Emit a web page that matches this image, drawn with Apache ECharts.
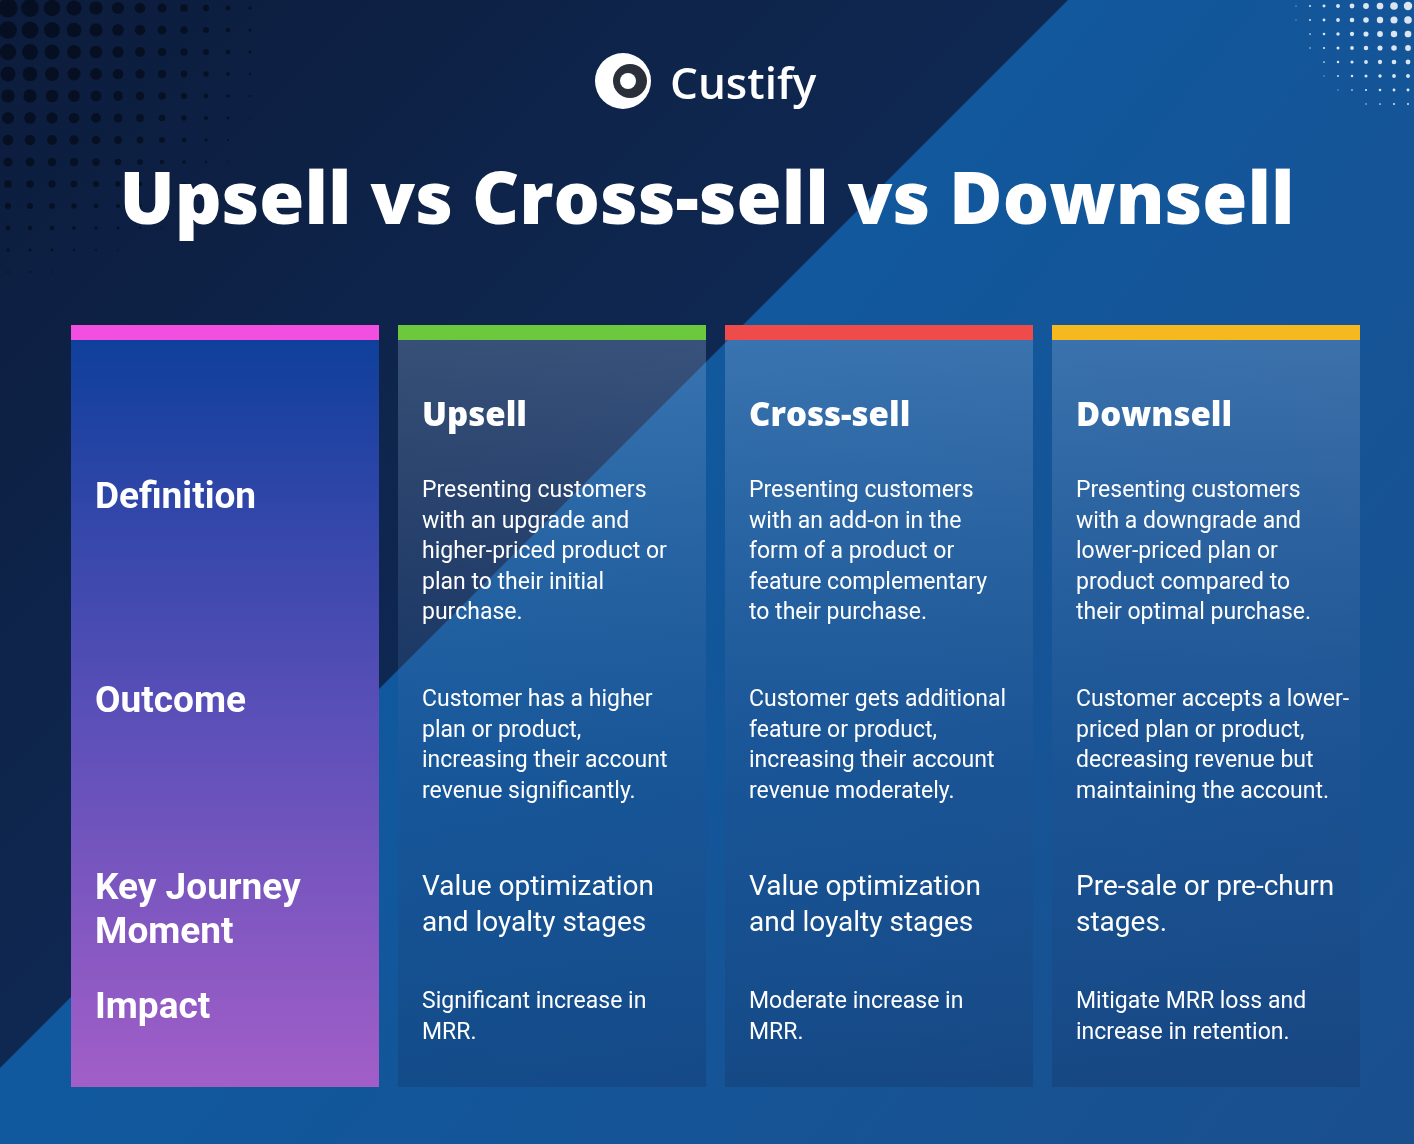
<!DOCTYPE html>
<html><head><meta charset="utf-8">
<script src="https://cdn.jsdelivr.net/npm/echarts@6/dist/echarts.min.js"></script>
<style>html,body{margin:0;padding:0;background:#0c1f3f}#c{width:1414px;height:1144px}</style>
</head><body><div id="c"></div>
<script>
const title = "Upsell vs Cross-sell vs Downsell";
const brand = "Custify";
const columns = ["Upsell", "Cross-sell", "Downsell"];
const rowLabels = ["Definition", "Outcome", "Key Journey\nMoment", "Impact"];
const barColors = ["#f24fe0", "#6cc83c", "#ef4b4b", "#f6b81f"];
const definitions = [
  "Presenting customers\nwith an upgrade and\nhigher-priced product or\nplan to their initial\npurchase.",
  "Presenting customers\nwith an add-on in the\nform of a product or\nfeature complementary\nto their purchase.",
  "Presenting customers\nwith a downgrade and\nlower-priced plan or\nproduct compared to\ntheir optimal purchase."
];
const outcomes = [
  "Customer has a higher\nplan or product,\nincreasing their account\nrevenue significantly.",
  "Customer gets additional\nfeature or product,\nincreasing their account\nrevenue moderately.",
  "Customer accepts a lower-\npriced plan or product,\ndecreasing revenue but\nmaintaining the account."
];
const journeys = [
  "Value optimization\nand loyalty stages",
  "Value optimization\nand loyalty stages",
  "Pre-sale or pre-churn\nstages."
];
const impacts = [
  "Significant increase in\nMRR.",
  "Moderate increase in\nMRR.",
  "Mitigate MRR loss and\nincrease in retention."
];

const colX = [71, 398, 725, 1052];
const colW = 308;
const g = [];
g.push({type:'rect', shape:{x:0,y:0,width:1414,height:1144}, style:{fill:new echarts.graphic.LinearGradient(0,0,1,1,[{offset:0,color:'#0a5fa8'},{offset:1,color:'#1a4f8e'}])}, z:0});
g.push({type:'polygon', shape:{points:[[0,0],[1068,0],[0,1068]]}, style:{fill:new echarts.graphic.LinearGradient(0,0,1,1,[{offset:0,color:'#0c1c3c'},{offset:1,color:'#123467'}])}, z:1});
for (let i=0;i<12;i++) for (let j=0;j<14;j++){
  const x=8+i*22, y=8+j*22; const d=Math.hypot(x,y);
  const r=Math.max(0,10-d/30); if(r>0.6) g.push({type:'circle',shape:{cx:x,cy:y,r:r},style:{fill:'rgba(0,0,0,0.45)'},z:2});
}
for (let i=0;i<10;i++) for (let j=0;j<8;j++){
  const x=1414-6-i*14, y=6+j*14; const d=Math.hypot(1414-x,y);
  const r=Math.max(0,4.5-d/30); if(r>0.5) g.push({type:'circle',shape:{cx:x,cy:y,r:r},style:{fill:'rgba(255,255,255,0.85)'},z:2});
}
g.push({type:'circle',shape:{cx:623,cy:81,r:28},style:{fill:'#ffffff'},z:5});
g.push({type:'circle',shape:{cx:630,cy:81,r:17},style:{fill:'#2a2f3a'},z:6});
g.push({type:'circle',shape:{cx:628,cy:81,r:8},style:{fill:'#ffffff'},z:7});
g.push({type:'text',x:670,y:86,style:{text:brand,fill:'#fff',font:'600 44px "Open Sans"',textVerticalAlign:'middle'},z:5});
g.push({type:'text',x:707,y:203,style:{text:title,fill:'#fff',font:'800 73px "Open Sans"',textAlign:'center',textVerticalAlign:'middle'},z:5});
colX.forEach((x,i)=>{
  g.push({type:'rect',shape:{x:x,y:325,width:colW,height:15},style:{fill:barColors[i]},z:5});
  if(i===0){
    g.push({type:'rect',shape:{x:x,y:340,width:colW,height:747},style:{fill:new echarts.graphic.LinearGradient(0,0,0,1,[{offset:0,color:'#0f3f9c'},{offset:0.5,color:'#5a4fb8'},{offset:1,color:'#a25ec8'}])},z:4});
  } else {
    g.push({type:'rect',shape:{x:x,y:340,width:colW,height:747},style:{fill:new echarts.graphic.LinearGradient(0,0,0,1,[{offset:0,color:'rgba(150,180,220,0.3)'},{offset:0.6,color:'rgba(40,80,140,0.22)'},{offset:1,color:'rgba(20,50,100,0.32)'}])},z:4});
  }
});
const rowY = [499, 703, 912, 1009];
rowLabels.forEach((t,k)=>{
  g.push({type:'text',x:95,y:rowY[k],style:{text:t,fill:'#fff',font:'bold 37px Roboto',lineHeight:44,textVerticalAlign:'middle'},z:6});
});
const body = (x,y,t,size,lh)=>g.push({type:'text',x:x,y:y,style:{text:t,fill:'#fff',font:size+'px Roboto',lineHeight:lh,textVerticalAlign:'top'},z:6});
columns.forEach((c,i)=>{
  const x = colX[i+1]+24;
  g.push({type:'text',x:x,y:417,style:{text:c,fill:'#fff',font:'800 33px "Open Sans"',textVerticalAlign:'middle'},z:6});
  body(x,476,definitions[i],23,30.5);
  body(x,685,outcomes[i],23,30.5);
  body(x,870,journeys[i],28,36);
  body(x,987,impacts[i],23,30.5);
});
const chart = echarts.init(document.getElementById('c'));
chart.setOption({graphic:{elements:g}});
</script></body></html>
